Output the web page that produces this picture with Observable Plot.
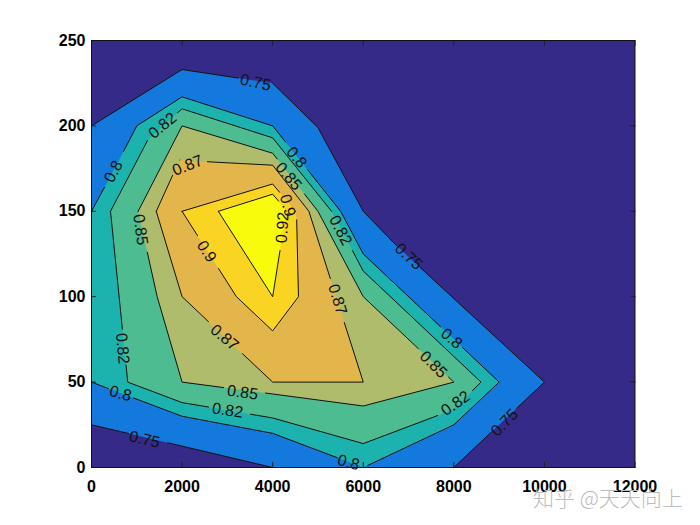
<!DOCTYPE html>
<html><head><meta charset="utf-8">
<script src="https://cdn.jsdelivr.net/npm/d3@7"></script>
<script src="https://cdn.jsdelivr.net/npm/@observablehq/plot@0.6"></script>
<style>
html,body{margin:0;padding:0;background:#fff}
#wrap{position:relative;width:700px;height:525px;overflow:hidden}
#mark{position:absolute;left:533px;top:482px;font:300 21px "Noto Sans CJK SC";color:#bcbcbc;white-space:nowrap;letter-spacing:0}
svg{display:block}
</style></head><body>
<div id="wrap"><div id="mark">知乎 @天天向上</div></div>
<script>
// third element 1 = contour line is interrupted between this point and the next
const band075 = [[0,25,1],[0,200],[2000,233],[3245,228,1],[4000,225],[5000,199],[6000,150],[6730,130,1],[7260,117],[10000,50],[9384,34.6,1],[8832,20.8],[8000,0,1],[4000,0],[1680,14.5,1],[820,19.9],[0,25]];
const band080 = [[0,50,1],[0,150],[287,164,1],[707,185],[1000,200],[2000,217],[4000,200],[4283,190.6,1],[4769,174.4],[5500,150],[6000,125],[7706,82.4,1],[8192,70.2],[9000,50],[8000,25],[6100,1.25,1],[6000,0,1],[5430,5.7],[4000,20],[2000,30],[930,40.7,1],[375,46.2],[0,50]];
const band082 = [[420,150],[1236,191.4,1],[1899,207.7],[2000,210],[4000,193],[5300,150,1],[5763,126.9],[6000,115],[8600,50],[8412,45,1],[8000,34,1],[7640,30.4],[6000,14],[4000,29],[3510,31.2,1],[2583,35.4],[2000,38],[800,50],[762,60,1],[682,81],[420,150]];
const band085 = [[1030,150],[2000,200],[4000,184],[4100,180.6,1],[4700,160.2],[5000,150],[6000,100],[7220,69.5,1],[7883,52.9],[8000,50],[6000,36],[3842,43.6,1],[2915,46.8],[2000,50],[1450,100],[1232,126,1],[1030,150]];
const band087 = [[1430,150],[1790,171,1],[1950,180,1],[2560,179],[4000,177],[4800,150],[5273,110.6,1],[5581,84.9],[6000,50],[4000,50],[3334,66.6,1],[2583,85.4],[2000,100],[1430,150]];
const band090 = [[2000,150],[4000,166],[4150,161.2,1],[4500,150,1],[4530,145],[4570,100],[4000,80],[3200,100],[2804,116.5,1],[2340,135.8],[2000,150]];
const band092 = [[2800,150],[4000,160],[4130,156,1],[4300,150,1],[4162,127],[4000,100],[2800,150]];

const bands = [band075, band080, band082, band085, band087, band090, band092];
const bandColors = ["#1379dc","#1cb3ae","#4dbc90","#aebc6b","#e3b64b","#f9d423","#f8fb0c"];
const backgroundColor = "#352a87";

const labelText  = ["0.75","0.75","0.75","0.75","0.8","0.8","0.8","0.8","0.8","0.82","0.82","0.82","0.82","0.82","0.85","0.85","0.85","0.85","0.87","0.87","0.87","0.9","0.9","0.92"];
const labelX     = [3621,7000,9119,1170,486,640,7949,4526,5675,1568,684,3003,8037,5498,1082,4350,3334,7551,2120,2937,5432,4328,2539,4217];
const labelY     = [225.4,123.5,26.3,16.4,173.3,43.3,75.5,181.5,2.9,200.2,69.7,33.4,37.5,138.8,139.3,170.4,43.9,60.3,176.8,76.1,98.4,153.4,126.5,140.5];
const labelAngle = [12,43,-45,13,-62,15,40,50,15,-40,85,8,-35,62,82,50,8,45,-22,40,73,75,57,-86];

const xTicks = [0,2000,4000,6000,8000,10000,12000];
const yTicks = [0,50,100,150,200,250];

const fills = bands.map(b => b.map(([x,y]) => ({x,y})));
const strokes = bands.map(b => b.flatMap(([x,y,up]) => up ? [{x,y},{x:NaN,y:NaN}] : [{x,y}]));
const labels = labelText.map((t,i) => ({t, x:labelX[i], y:labelY[i], a:labelAngle[i]}));

const chart = Plot.plot({
  width:700, height:525,
  marginLeft:91, marginRight:65.5, marginTop:40, marginBottom:58,
  style:{fontFamily:"Liberation Sans", fontSize:"16px", background:"#fff", overflow:"visible"},
  x:{domain:[0,12000]},
  y:{domain:[0,250]},
  marks:[
    Plot.frame({fill:backgroundColor, stroke:null}),
    ...fills.map((d,i) => Plot.line(d, {x:"x", y:"y", fill:bandColors[i], stroke:null})),
    ...strokes.map(d => Plot.line(d, {x:"x", y:"y", stroke:"#111", strokeWidth:1})),
    Plot.text(labels, {x:"x", y:"y", text:"t", rotate:"a", fill:"#111", fontSize:16, fontFamily:"Liberation Sans"}),
    Plot.axisX({anchor:"bottom", ticks:xTicks, tickSize:-5, tickPadding:18, label:null, stroke:"#222", fill:"#000", fontWeight:"bold", tickFormat:d=>String(d), fontSize:16}),
    Plot.axisX({anchor:"top", ticks:xTicks, tickSize:-5, tickFormat:()=>"", label:null, stroke:"#222"}),
    Plot.axisY({anchor:"left", ticks:yTicks, tickSize:-5, tickPadding:11, label:null, stroke:"#222", fill:"#000", fontWeight:"bold", tickFormat:d=>String(d), fontSize:16}),
    Plot.axisY({anchor:"right", ticks:yTicks, tickSize:-5, tickFormat:()=>"", label:null, stroke:"#222"}),
    Plot.frame({stroke:"#111", strokeWidth:1})
  ]
});
document.getElementById("wrap").prepend(chart);
</script>
</body></html>
